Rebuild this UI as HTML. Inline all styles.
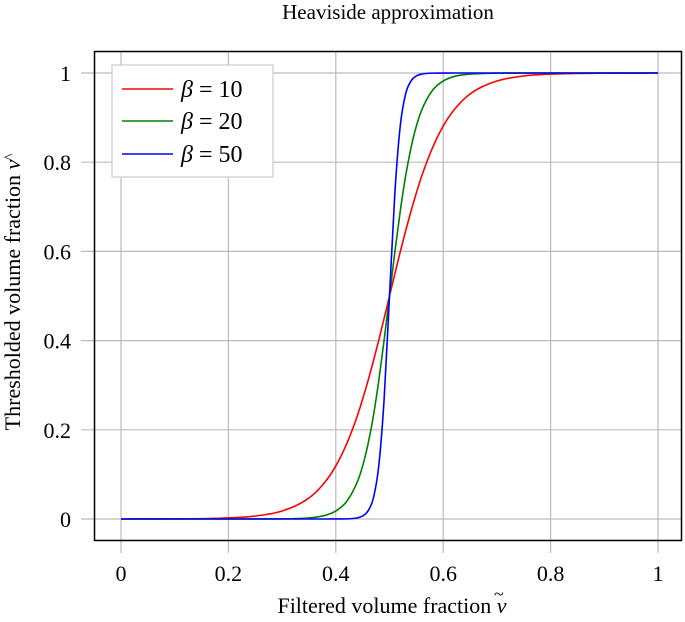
<!DOCTYPE html>
<html><head><meta charset="utf-8"><style>
body{margin:0;background:#fff;width:685px;height:617px;overflow:hidden}
text{font-family:"Liberation Serif",serif;fill:#000}
</style></head><body>
<svg width="685" height="617" xmlns="http://www.w3.org/2000/svg">
<g id="grid"></g>
<g id="ticks"></g>
<g id="series"></g>
<rect x="94.5" y="51.5" width="587" height="489" fill="none" stroke="#000" stroke-width="1.5"/>
<text x="388" y="19" font-size="21" text-anchor="middle">Heaviside approximation</text>
<text x="392" y="613" font-size="22" text-anchor="middle">Filtered volume fraction <tspan font-style="italic">ν</tspan></text>
<text x="494" y="600" font-size="18">~</text>
<text transform="translate(20,295) rotate(-90)" font-size="22" text-anchor="middle">Thresholded volume fraction <tspan font-style="italic">ν</tspan></text>
<text transform="translate(15,161) rotate(-90)" font-size="16">^</text>
<g>
<rect x="112" y="65" width="161" height="112" fill="#fff" stroke="#ccc" stroke-width="1.2"/>
<g><line x1="122" y1="89" x2="173" y2="89" stroke="#f00" stroke-width="1.5"/><text x="181" y="97" font-size="24"><tspan font-style="italic">β</tspan> = 10</text></g>
<g><line x1="122" y1="121" x2="173" y2="121" stroke="#008000" stroke-width="1.5"/><text x="181" y="129" font-size="24"><tspan font-style="italic">β</tspan> = 20</text></g>
<g><line x1="122" y1="154" x2="173" y2="154" stroke="#00f" stroke-width="1.5"/><text x="181" y="162" font-size="24"><tspan font-style="italic">β</tspan> = 50</text></g>
</g>
</svg>
<script>
const xs=[0,0.1,0.2,0.25,0.3,0.35,0.38,0.4,0.42,0.44,0.45,0.46,0.47,0.48,0.49,0.5,0.51,0.52,0.53,0.54,0.55,0.56,0.58,0.6,0.62,0.65,0.7,0.75,0.8,0.9,1];
const b10=[0,0.0003,0.0025,0.0067,0.018,0.047,0.083,0.119,0.168,0.231,0.269,0.31,0.354,0.401,0.45,0.5,0.55,0.599,0.646,0.69,0.731,0.769,0.832,0.881,0.917,0.953,0.982,0.9933,0.9975,0.9997,1];
const b20=[0,0,0,0.0001,0.0003,0.0025,0.008,0.018,0.039,0.083,0.119,0.168,0.231,0.31,0.401,0.5,0.599,0.69,0.769,0.832,0.881,0.917,0.961,0.982,0.992,0.9975,0.9997,0.9999,1,1,1];
const b50=[0,0,0,0,0,0,0,0.0001,0.0003,0.0025,0.0067,0.018,0.047,0.119,0.269,0.5,0.731,0.881,0.953,0.982,0.9933,0.9975,0.9997,0.9999,1,1,1,1,1,1,1];
const xTicks=[0,0.2,0.4,0.6,0.8,1];
const yTicks=[0,0.2,0.4,0.6,0.8,1];
const xTickLabels=["0","0.2","0.4","0.6","0.8","1"];
const yTickLabels=["0","0.2","0.4","0.6","0.8","1"];
const X=v=>121+537*v, Y=v=>519-446*v;
const NS="http://www.w3.org/2000/svg";
const grid=document.getElementById('grid'),ticks=document.getElementById('ticks'),ser=document.getElementById('series');
function mk(t,a,p){const e=document.createElementNS(NS,t);for(const k in a)e.setAttribute(k,a[k]);p.appendChild(e);return e;}
function monoPath(px,py){
 const n=px.length,d=[],m=new Array(n);
 for(let i=0;i<n-1;i++)d.push((py[i+1]-py[i])/(px[i+1]-px[i]));
 m[0]=d[0];m[n-1]=d[n-2];
 for(let i=1;i<n-1;i++){m[i]=(d[i-1]*d[i]<=0)?0:(d[i-1]+d[i])/2;}
 for(let i=0;i<n-1;i++){if(d[i]===0){m[i]=0;m[i+1]=0;continue;}const a=m[i]/d[i],b=m[i+1]/d[i],s=a*a+b*b;if(s>9){const t=3/Math.sqrt(s);m[i]=t*a*d[i];m[i+1]=t*b*d[i];}}
 let s='M'+px[0]+','+py[0];
 for(let i=0;i<n-1;i++){const h=(px[i+1]-px[i])/3;s+=' C'+(px[i]+h)+','+(py[i]+m[i]*h)+' '+(px[i+1]-h)+','+(py[i+1]-m[i+1]*h)+' '+px[i+1]+','+py[i+1];}
 return s;
}
xTicks.forEach((v,i)=>{
 const l=mk('line',{x1:X(v),x2:X(v),y1:51,y2:553,stroke:'#bbb','stroke-width':1.2},grid);
 
 
 const t=mk('text',{x:X(v),y:581,'font-size':22,'text-anchor':'middle'},ticks);t.textContent=xTickLabels[i];
 
 
});
yTicks.forEach((v,i)=>{
 const l=mk('line',{x1:81,x2:681,y1:Y(v),y2:Y(v),stroke:'#bbb','stroke-width':1.2},grid);
 
 
 const t=mk('text',{x:71,y:Y(v)+8,'font-size':22,'text-anchor':'end'},ticks);t.textContent=yTickLabels[i];
 
 
});
[[b10,'#f00','line-beta-10'],[b20,'#008000','line-beta-20'],[b50,'#00f','line-beta-50']].forEach(([d,c,n])=>{
 const p=mk('path',{d:monoPath(xs.map(X),d.map(Y)),fill:'none',stroke:c,'stroke-width':1.6,'stroke-linejoin':'round'},ser);
 
 
});
</script>
</body></html>
